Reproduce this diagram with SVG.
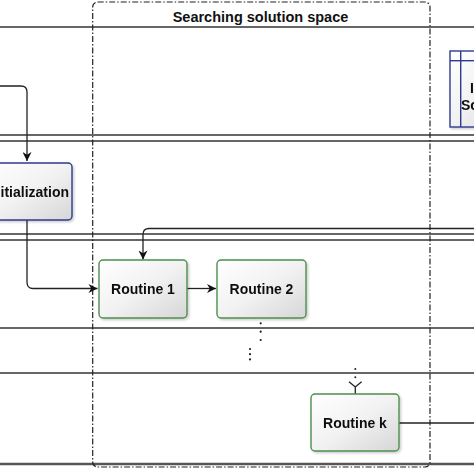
<svg xmlns="http://www.w3.org/2000/svg" width="474" height="474" viewBox="0 0 474 474">
<style>
.lane{stroke:#333;stroke-width:1.5;fill:none}
.conn{stroke:#222;stroke-width:1.3;fill:none}
.box{stroke-width:1.4}
.green{stroke:#4d8f4d}
.blue{stroke:#2f3b8f}
.lbl{font-family:"Liberation Sans",Arial,sans-serif;font-weight:bold;font-size:14px;fill:#111}
.dot{fill:#222}
</style>
<defs>
<linearGradient id="g" x1="0" y1="0" x2="1" y2="1">
<stop offset="0" stop-color="#ffffff"/>
<stop offset="0.5" stop-color="#f2f2f2"/>
<stop offset="1" stop-color="#d6d6d6"/>
</linearGradient>
<filter id="sh" x="-10%" y="-10%" width="130%" height="130%">
<feDropShadow dx="1.5" dy="1.5" stdDeviation="1" flood-color="#000" flood-opacity="0.2"/>
</filter>
<marker id="arr" viewBox="0 0 10 10" refX="10" refY="5" markerWidth="10" markerHeight="9" orient="auto" markerUnits="userSpaceOnUse">
<path d="M0,0 L10,5 L0,10 L3,5 z" fill="#111"/>
</marker>
</defs>
<rect width="474" height="474" fill="#fff"/>

<g id="lanes">
<line class="lane" x1="0" y1="27" x2="474" y2="27"/>
<line class="lane" x1="0" y1="135" x2="474" y2="135"/>
<line class="lane" x1="0" y1="141" x2="474" y2="141"/>
<line class="lane" x1="0" y1="234" x2="474" y2="234"/>
<line class="lane" x1="0" y1="240" x2="474" y2="240"/>
<line class="lane" x1="0" y1="328" x2="474" y2="328"/>
<line class="lane" x1="0" y1="373" x2="474" y2="373"/>
<line x1="0" y1="464" x2="474" y2="464" stroke="#555" stroke-width="2.5"/>
</g>

<g id="search-space">
<rect x="92.7" y="2" width="337.3" height="465" rx="5" fill="none" stroke="#222" stroke-width="1.2" stroke-dasharray="6 2 1.5 2"/>
<text class="lbl" x="260.5" y="22" text-anchor="middle" style="font-size:14.5px">Searching solution space</text>
</g>

<g id="connectors">
<path class="conn" d="M0,86 H21 Q27,86 27,92 V161" marker-end="url(#arr)"/>
<path class="conn" d="M27,220 V282 Q27,288.5 33,288.5 H97.5" marker-end="url(#arr)"/>
<path class="conn" d="M474,228.5 H149 Q143,228.5 143,234.5 V259.5" marker-end="url(#arr)"/>
<path class="conn" d="M187,288.5 H216" marker-end="url(#arr)"/>
<path class="conn" d="M399,423 H474"/>
<g id="dots">
<circle class="dot" cx="260.7" cy="323.3" r="1.1"/>
<circle class="dot" cx="260.7" cy="331.7" r="1.1"/>
<circle class="dot" cx="260.7" cy="340" r="1.1"/>
<circle class="dot" cx="250" cy="349" r="1.1"/>
<circle class="dot" cx="250" cy="354.2" r="1.1"/>
<circle class="dot" cx="250" cy="359.4" r="1.1"/>
<circle class="dot" cx="355.3" cy="369" r="1"/>
<circle class="dot" cx="355.3" cy="377.3" r="1"/>
</g>
<path class="conn" d="M349,381.7 L355.3,387 L361.6,381.7 M355.3,387 V394" stroke-width="1.6"/>
</g>

<g id="initialization" filter="url(#sh)">
<rect class="box blue" x="-16" y="163" width="88" height="57" rx="4" fill="url(#g)"/>
<text class="lbl" x="69" y="197" text-anchor="end">Initialization</text>
</g>

<g id="initial-schedule" filter="url(#sh)">
<rect class="box blue" x="450" y="51" width="60" height="76" fill="url(#g)"/>
<line class="blue" x1="460.7" y1="51" x2="460.7" y2="127" stroke-width="1.4"/>
<line class="blue" x1="450" y1="60.7" x2="474" y2="60.7" stroke-width="1.4"/>
<text class="lbl" x="470" y="93">Initial</text>
<text class="lbl" x="461" y="110">Schedule</text>
</g>

<g id="routine1" filter="url(#sh)">
<rect class="box green" x="99" y="260" width="88" height="58" rx="4" fill="url(#g)"/>
<text class="lbl" x="143" y="294" text-anchor="middle">Routine 1</text>
</g>

<g id="routine2" filter="url(#sh)">
<rect class="box green" x="217" y="260" width="89" height="58" rx="4" fill="url(#g)"/>
<text class="lbl" x="261.5" y="294" text-anchor="middle">Routine 2</text>
</g>

<g id="routinek" filter="url(#sh)">
<rect class="box green" x="311" y="394" width="88" height="57" rx="4" fill="url(#g)"/>
<text class="lbl" x="355" y="428" text-anchor="middle">Routine k</text>
</g>
</svg>
